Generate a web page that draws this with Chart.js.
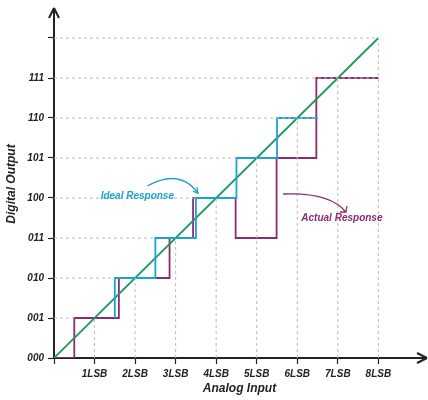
<!DOCTYPE html><html><head><meta charset="utf-8">
<script src="https://cdn.jsdelivr.net/npm/chart.js@4"></script>
<style>html,body{margin:0;background:#fff}#w{width:428px;height:400px}</style></head><body><div id="w"><canvas id="c"></canvas></div>
<script>
const xTickLabels=['','1LSB','2LSB','3LSB','4LSB','5LSB','6LSB','7LSB','8LSB'];
const yTickLabels=['000','001','010','011','100','101','110','111',''];
const idealX=[1.5,1.5,2.5,2.5,3.5,3.5,4.5,4.5,5.5,5.5,6.5];
const idealY=[1,2,2,3,3,4,4,5,5,6,6];
const actualX=[0,0.5,0.5,1.6,1.6,2.85,2.85,3.43,3.43,4.48,4.48,5.49,5.49,6.47,6.47,8];
const actualY=[0,0,1,1,2,2,3,3,4,4,3,3,5,5,7,7];
const diagX=[0,8];const diagY=[0,8];
const hGridEnd=[0,0.5,1.5,2.5,3.5,4.5,6.5,8,8];
const pts=(xs,ys)=>xs.map((x,i)=>({x,y:ys[i]}));
const grid=[];
for(let k=1;k<=8;k++){grid.push({x:0,y:k},{x:hGridEnd[k],y:k},{x:NaN,y:NaN});grid.push({x:k,y:0},{x:k,y:k},{x:NaN,y:NaN});}
const deco={id:'deco',afterDraw(ch){const c=ch.ctx,a=ch.chartArea,xs=ch.scales.x,ys=ch.scales.y;
c.save();c.fillStyle='#222';c.strokeStyle='#222';c.lineWidth=2;
c.beginPath();c.moveTo(a.left,a.top-2);c.lineTo(a.left-5,a.top+8);c.moveTo(a.left,a.top-2);c.lineTo(a.left+5,a.top+8);c.stroke();
c.beginPath();c.moveTo(a.right+2,a.bottom);c.lineTo(a.right-8,a.bottom-5);c.moveTo(a.right+2,a.bottom);c.lineTo(a.right-8,a.bottom+5);c.stroke();
c.font='italic bold 10px "Liberation Sans", Arial';c.fillStyle='#1aa3d3';c.textBaseline='middle';c.textAlign='left';
c.fillText('Ideal Response',xs.getPixelForValue(1.15),ys.getPixelForValue(4.04));
c.strokeStyle='#1aa3d3';c.lineWidth=1.3;c.beginPath();const p1=[xs.getPixelForValue(2.3),ys.getPixelForValue(4.3)],p2=[xs.getPixelForValue(3.55),ys.getPixelForValue(4.12)];
c.moveTo(p1[0],p1[1]);c.quadraticCurveTo(xs.getPixelForValue(3.1),ys.getPixelForValue(4.75),p2[0],p2[1]);c.stroke();
c.beginPath();c.moveTo(p2[0]-5,p2[1]-2);c.lineTo(p2[0],p2[1]);c.lineTo(p2[0]-1,p2[1]-6);c.stroke();
c.fillStyle='#8e2a6e';c.fillText('Actual Response',xs.getPixelForValue(6.1),ys.getPixelForValue(3.5));
c.strokeStyle='#8e2a6e';c.beginPath();const q1=[xs.getPixelForValue(5.65),ys.getPixelForValue(4.1)],q2=[xs.getPixelForValue(7.2),ys.getPixelForValue(3.65)];
c.moveTo(q1[0],q1[1]);c.quadraticCurveTo(xs.getPixelForValue(6.8),ys.getPixelForValue(4.15),q2[0],q2[1]);c.stroke();
c.beginPath();c.moveTo(q2[0]-6,q2[1]);c.lineTo(q2[0],q2[1]);c.lineTo(q2[0]+1,q2[1]-6);c.stroke();
c.restore();}};
const ds=(data,color,w,dash)=>({data,borderColor:color,borderWidth:w,borderDash:dash||[],pointRadius:0,fill:false,tension:0,spanGaps:false});
new Chart(document.getElementById('c'),{type:'line',plugins:[deco],
data:{datasets:[ds(grid,'#bbb',1,[3,3]),ds(pts(idealX,idealY),'#1aa3d3',1.8),ds(pts(diagX,diagY),'#1a9a5a',1.8),ds(pts(actualX,actualY),'#8e2a6e',1.8)]},
options:{responsive:true,maintainAspectRatio:false,animation:false,layout:{padding:{top:5,right:3}},
plugins:{legend:{display:false},tooltip:{enabled:false}},
scales:{
x:{type:'linear',min:0,max:9.15,afterBuildTicks:s=>{s.ticks=xTickLabels.map((_,i)=>({value:i}))},afterFit:s=>{s.height=42},
border:{color:'#222',width:2},grid:{drawOnChartArea:false,color:'#222',tickLength:6,tickWidth:1.2},
ticks:{autoSkip:false,maxRotation:0,color:'#222',padding:4,font:{family:'Liberation Sans',size:10,weight:'bold',style:'italic'},callback:v=>xTickLabels[v]},
title:{display:true,text:'Analog Input',color:'#222',padding:{top:7},font:{family:'Liberation Sans',size:12,weight:'bold',style:'italic'}}},
y:{type:'linear',min:0,max:8.7,afterBuildTicks:s=>{s.ticks=yTickLabels.map((_,i)=>({value:i}))},afterFit:s=>{s.width=54},
border:{color:'#222',width:2},grid:{drawOnChartArea:false,color:'#222',tickLength:6,tickWidth:1.2},
ticks:{autoSkip:false,color:'#222',padding:4,font:{family:'Liberation Sans',size:10,weight:'bold',style:'italic'},callback:v=>yTickLabels[v]},
title:{display:true,text:'Digital Output',color:'#222',padding:{bottom:2},font:{family:'Liberation Sans',size:12,weight:'bold',style:'italic'}}}}}});
</script></body></html>
